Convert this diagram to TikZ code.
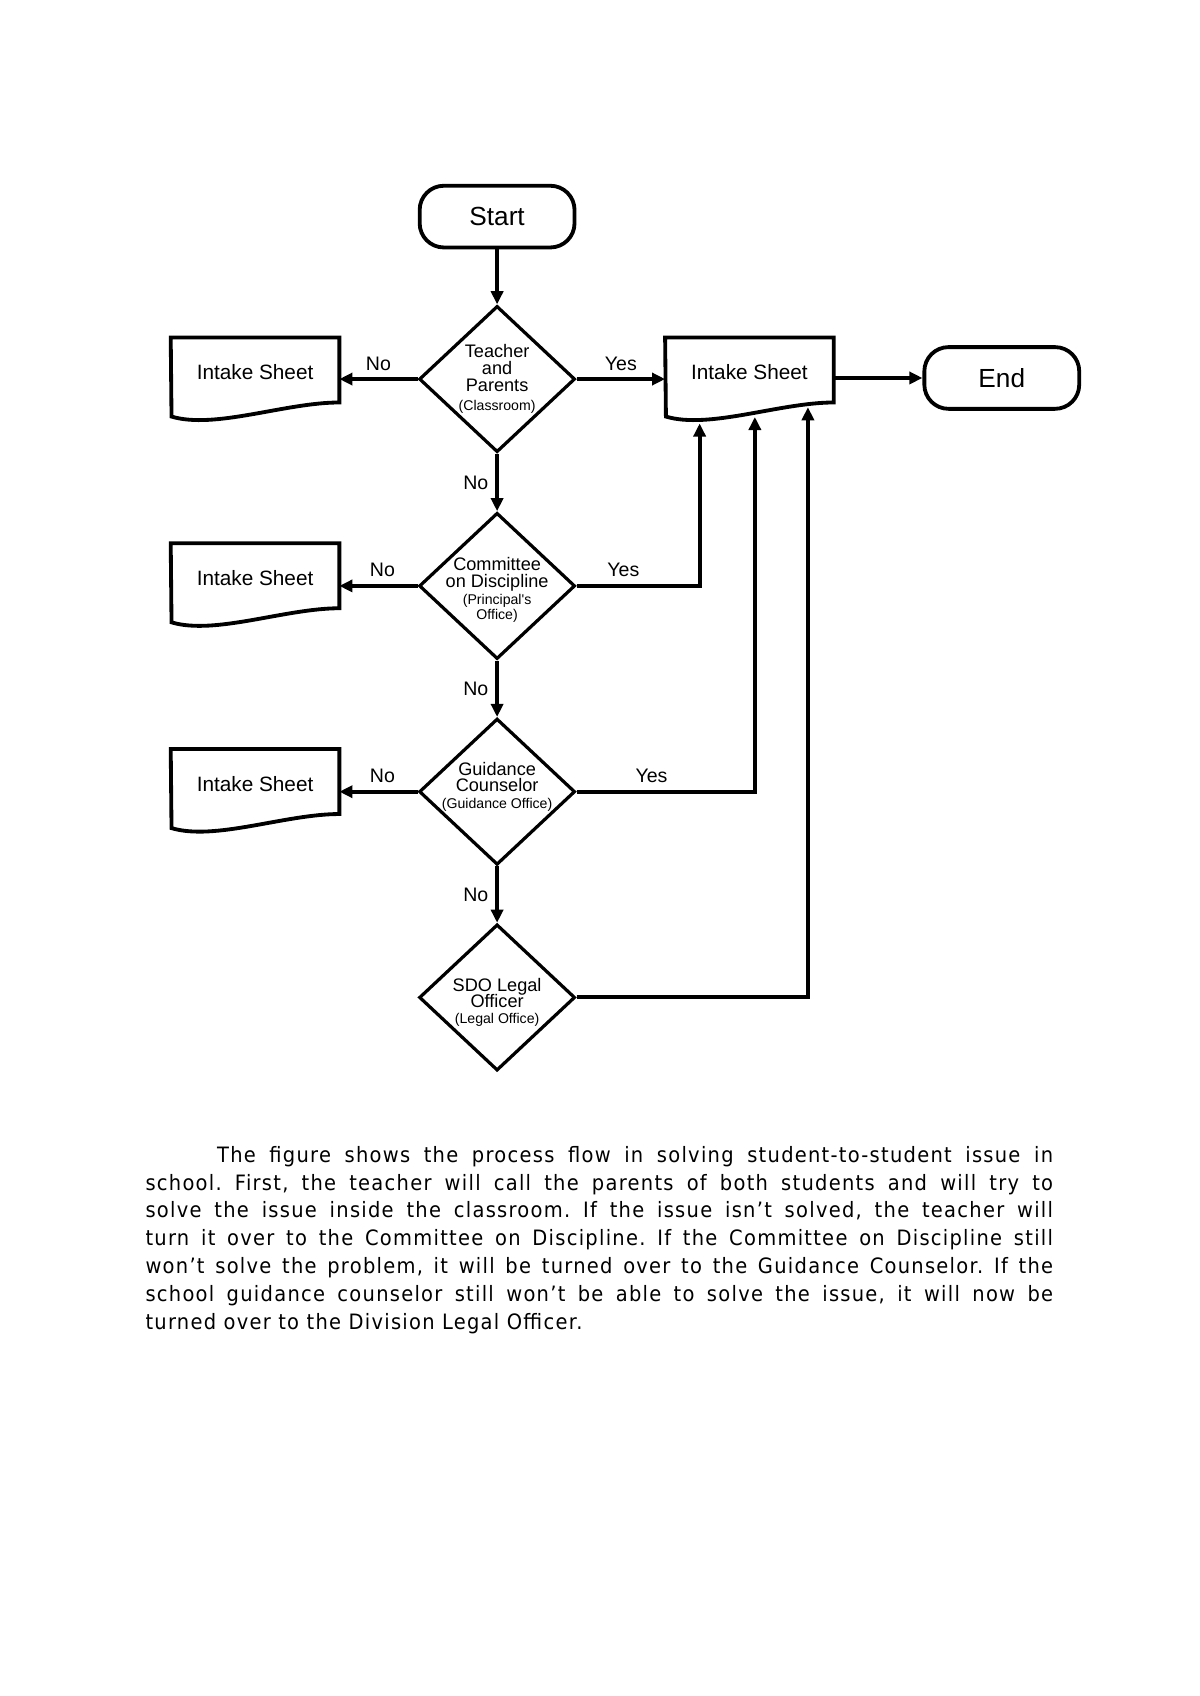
\documentclass[tikz,border=0pt]{standalone}
\usepackage{fontspec}
\setmainfont[FakeStretch=0.92,LetterSpace=6]{DejaVu Sans}
\newfontfamily\chartfont{Liberation Sans}
\usetikzlibrary{arrows.meta,shapes.geometric,positioning}
\newcommand{\px}{0.53726pt}

\begin{document}
\frenchspacing
\begin{tikzpicture}[x=\px,y=-\px,
        line/.style={line width=1.9pt},
        flow/.style={line width=2pt,-{Triangle[length=6.5pt,width=6pt]}},
        terminal/.style={draw,line width=1.9pt,rounded corners=12pt,minimum width=143*\px,minimum height=57*\px,font=\chartfont\fontsize{13}{15}\selectfont},
        decision/.style={draw,diamond,line width=1.6pt,minimum width=144*\px,minimum height=135*\px,inner sep=0pt},
        dtext/.style={align=center,inner sep=0pt,font=\chartfont\fontsize{9}{8.4}\selectfont},
        sheet/.style={minimum width=155*\px,minimum height=64*\px,inner sep=0pt,font=\chartfont\fontsize{10.3}{12}\selectfont},
        answer/.style={font=\chartfont\fontsize{9.7}{11}\selectfont}]
        \useasboundingbox (0,0) rectangle (1108,1566);

        \node[terminal] (start) at (459,200) {Start} ;
        \node[terminal] (end) at (925,349) {End} ;

        \node[decision, label={[dtext]center:{Teacher\\and\\Parents\\[1pt]{\fontsize{7}{7}\selectfont(Classroom)}}}] (d1) at (459,350) {} ;
        \node[decision, label={[dtext,yshift=-2pt]center:{Committee\\on Discipline\\{\fontsize{7}{7}\selectfont(Principal's}\\[-0.8pt]{\fontsize{7}{7}\selectfont Office)}}}] (d2) at (459,541) {} ;
        \node[decision, label={[dtext,yshift=2.4pt]center:{Guidance\\[-0.8pt]Counselor\\{\fontsize{7}{7}\selectfont(Guidance Office)}}}] (d3) at (459,731) {} ;
        \node[decision, label={[dtext,yshift=-2.6pt]center:{SDO Legal\\[-0.8pt]Officer\\{\fontsize{7}{7}\selectfont(Legal Office)}}}] (d4) at (459,921) {} ;

        \node[sheet] (s0) at (692,344) {Intake Sheet} ;
        \node[sheet] (s1) at (235.5,344) {Intake Sheet} ;
        \node[sheet] (s2) at (235.5,534) {Intake Sheet} ;
        \node[sheet] (s3) at (235.5,724) {Intake Sheet} ;
        \foreach \s in {s0,s1,s2,s3}
            \draw[line] (\s.north west) -- (\s.north east) -- ++(0,60) .. controls +(-50,0) and +(40,12) .. ++(-155,13) -- cycle;

        \coordinate (in1) at (646,391) ;
        \coordinate (in2) at (697,385) ;
        \coordinate (in3) at (746,376) ;

        \draw[flow] (start) -- (d1);
        \draw[flow] (d1) -- node[answer,above] {No} (d1 -| s1.east);
        \draw[flow] (d1) -- node[answer,above] {Yes} (d1 -| s0.west);
        \draw[flow] (end -| s0.east) -- (end);
        \draw[flow] (d1) -- node[answer,left] {No} (d2);

        \draw[flow] (d2) -- node[answer,above,xshift=2pt] {No} (d2 -| s2.east);
        \draw[flow] (d2) -| node[answer,above,pos=0.19] {Yes} (in1);
        \draw[flow] (d2) -- node[answer,left] {No} (d3);

        \draw[flow] (d3) -- node[answer,above,xshift=2pt] {No} (d3 -| s3.east);
        \draw[flow] (d3) -| node[answer,above,pos=0.21] {Yes} (in2);
        \draw[flow] (d3) -- node[answer,left] {No} (d4);

        \draw[flow] (d4) -| (in3);

        % caption under the chart
        \node[anchor=north west, text width=450.2pt, align=justify, inner sep=0pt, font=\fontsize{10.5}{13.8}\selectfont] (caption) at (134,1058)
            {\hspace*{35.5pt}The figure shows the process flow in solving student-to-student issue in\linebreak
            school. First, the teacher will call the parents of both students and will try to\linebreak
            solve the issue inside the classroom. If the issue isn’t solved, the teacher will\linebreak
            turn it over to the Committee on Discipline. If the Committee on Discipline still\linebreak
            won’t solve the problem, it will be turned over to the Guidance Counselor. If the\linebreak
            school guidance counselor still won’t be able to solve the issue, it will now be\linebreak
            turned over to the Division Legal Officer.};

    \end{tikzpicture}
\end{document}
